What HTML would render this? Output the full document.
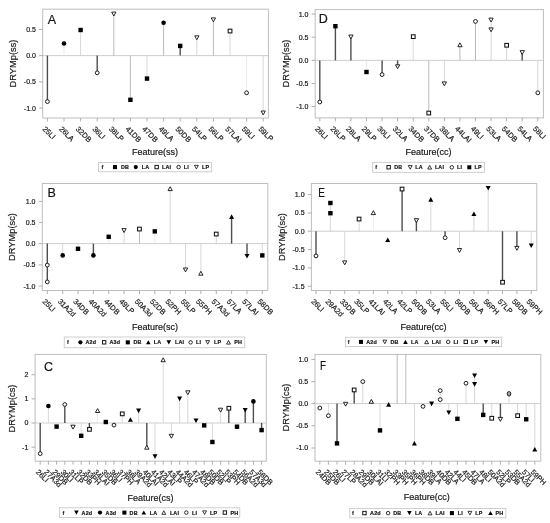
<!DOCTYPE html>
<html><head><meta charset="utf-8"><title>DRYMp feature plots</title>
<style>
html,body{margin:0;padding:0;background:#fff;}
body{width:550px;height:523px;overflow:hidden;}
svg{display:block;font-family:"Liberation Sans", sans-serif;}
text{stroke:#161616;stroke-width:0.18px;}
</style></head><body>
<svg width="550" height="523" viewBox="0 0 550 523">
<rect x="0" y="0" width="550" height="523" fill="#fff"/>
<rect x="42.7" y="9.2" width="225.7" height="108.8" fill="#fff" stroke="#bcbec2" stroke-width="1"/>
<line x1="42.7" y1="55.6" x2="268.4" y2="55.6" stroke="#c8c8c8" stroke-width="0.9"/>
<line x1="39.1" y1="29.4" x2="42.7" y2="29.4" stroke="#a6a6a6" stroke-width="0.9"/>
<text x="35.9" y="31.8" font-size="7" text-anchor="end" fill="#161616">0.5</text>
<line x1="39.1" y1="55.6" x2="42.7" y2="55.6" stroke="#a6a6a6" stroke-width="0.9"/>
<text x="35.9" y="58.0" font-size="7" text-anchor="end" fill="#161616">0.0</text>
<line x1="39.1" y1="81.9" x2="42.7" y2="81.9" stroke="#a6a6a6" stroke-width="0.9"/>
<text x="35.9" y="84.3" font-size="7" text-anchor="end" fill="#161616">-0.5</text>
<line x1="39.1" y1="108.1" x2="42.7" y2="108.1" stroke="#a6a6a6" stroke-width="0.9"/>
<text x="35.9" y="110.5" font-size="7" text-anchor="end" fill="#161616">-1.0</text>
<text transform="translate(16,63.5) rotate(-90)" font-size="9.3" text-anchor="middle" fill="#161616">DRYMp(ss)</text>
<text transform="translate(47.8,24) scale(1,1)" font-size="12.5" fill="#111" stroke="none">A</text>
<line x1="47.4" y1="118.0" x2="47.4" y2="121.5" stroke="#a6a6a6" stroke-width="0.9"/>
<line x1="47.4" y1="55.6" x2="47.4" y2="101.6" stroke="#4e4e4e" stroke-width="1.4"/>
<circle cx="47.4" cy="101.6" r="1.9" fill="#fff" stroke="#111" stroke-width="0.95"/>
<text transform="translate(42.1,129.4) rotate(45)" font-size="7.5" fill="#161616">25LI</text>
<line x1="64.0" y1="118.0" x2="64.0" y2="121.5" stroke="#a6a6a6" stroke-width="0.9"/>
<line x1="64.0" y1="55.6" x2="64.0" y2="43.5" stroke="#e4e4e4" stroke-width="0.75"/>
<circle cx="64.0" cy="43.5" r="2.3" fill="#000"/>
<text transform="translate(58.7,129.4) rotate(45)" font-size="7.5" fill="#161616">26LA</text>
<line x1="80.6" y1="118.0" x2="80.6" y2="121.5" stroke="#a6a6a6" stroke-width="0.9"/>
<line x1="80.6" y1="55.6" x2="80.6" y2="30" stroke="#cbcbcb" stroke-width="0.75"/>
<rect x="78.4" y="27.8" width="4.4" height="4.4" fill="#000"/>
<text transform="translate(75.3,129.4) rotate(45)" font-size="7.5" fill="#161616">32DB</text>
<line x1="97.2" y1="118.0" x2="97.2" y2="121.5" stroke="#a6a6a6" stroke-width="0.9"/>
<line x1="97.2" y1="55.6" x2="97.2" y2="72.8" stroke="#4e4e4e" stroke-width="1.4"/>
<circle cx="97.2" cy="72.8" r="1.9" fill="#fff" stroke="#111" stroke-width="0.95"/>
<text transform="translate(91.9,129.4) rotate(45)" font-size="7.5" fill="#161616">36LI</text>
<line x1="113.8" y1="118.0" x2="113.8" y2="121.5" stroke="#a6a6a6" stroke-width="0.9"/>
<line x1="113.8" y1="55.6" x2="113.8" y2="14" stroke="#adadad" stroke-width="0.85"/>
<polygon points="113.8,16.0 116.0,12.1 111.7,12.1" fill="#fff" stroke="#111" stroke-width="0.9"/>
<text transform="translate(108.5,129.4) rotate(45)" font-size="7.5" fill="#161616">38LP</text>
<line x1="130.4" y1="118.0" x2="130.4" y2="121.5" stroke="#a6a6a6" stroke-width="0.9"/>
<line x1="130.4" y1="55.6" x2="130.4" y2="99.8" stroke="#adadad" stroke-width="0.85"/>
<rect x="128.2" y="97.6" width="4.4" height="4.4" fill="#000"/>
<text transform="translate(125.1,129.4) rotate(45)" font-size="7.5" fill="#161616">41DB</text>
<line x1="147.0" y1="118.0" x2="147.0" y2="121.5" stroke="#a6a6a6" stroke-width="0.9"/>
<line x1="147.0" y1="55.6" x2="147.0" y2="78.6" stroke="#cbcbcb" stroke-width="0.75"/>
<rect x="144.8" y="76.4" width="4.4" height="4.4" fill="#000"/>
<text transform="translate(141.7,129.4) rotate(45)" font-size="7.5" fill="#161616">47DB</text>
<line x1="163.6" y1="118.0" x2="163.6" y2="121.5" stroke="#a6a6a6" stroke-width="0.9"/>
<line x1="163.6" y1="55.6" x2="163.6" y2="22.7" stroke="#adadad" stroke-width="0.85"/>
<circle cx="163.6" cy="22.7" r="2.3" fill="#000"/>
<text transform="translate(158.3,129.4) rotate(45)" font-size="7.5" fill="#161616">49LA</text>
<line x1="180.2" y1="118.0" x2="180.2" y2="121.5" stroke="#a6a6a6" stroke-width="0.9"/>
<line x1="180.2" y1="55.6" x2="180.2" y2="45.9" stroke="#4e4e4e" stroke-width="1.4"/>
<rect x="178.0" y="43.7" width="4.4" height="4.4" fill="#000"/>
<text transform="translate(174.9,129.4) rotate(45)" font-size="7.5" fill="#161616">50DB</text>
<line x1="196.8" y1="118.0" x2="196.8" y2="121.5" stroke="#a6a6a6" stroke-width="0.9"/>
<line x1="196.8" y1="55.6" x2="196.8" y2="37.7" stroke="#cbcbcb" stroke-width="0.75"/>
<polygon points="196.8,39.7 199.0,35.8 194.7,35.8" fill="#fff" stroke="#111" stroke-width="0.9"/>
<text transform="translate(191.5,129.4) rotate(45)" font-size="7.5" fill="#161616">54LP</text>
<line x1="213.4" y1="118.0" x2="213.4" y2="121.5" stroke="#a6a6a6" stroke-width="0.9"/>
<line x1="213.4" y1="55.6" x2="213.4" y2="19.8" stroke="#adadad" stroke-width="0.85"/>
<polygon points="213.4,21.8 215.6,17.9 211.2,17.9" fill="#fff" stroke="#111" stroke-width="0.9"/>
<text transform="translate(208.1,129.4) rotate(45)" font-size="7.5" fill="#161616">56LP</text>
<line x1="230.0" y1="118.0" x2="230.0" y2="121.5" stroke="#a6a6a6" stroke-width="0.9"/>
<line x1="230.0" y1="55.6" x2="230.0" y2="31.1" stroke="#cbcbcb" stroke-width="0.75"/>
<rect x="228.2" y="29.2" width="3.7" height="3.7" fill="#fff" stroke="#111" stroke-width="1.05"/>
<text transform="translate(224.7,129.4) rotate(45)" font-size="7.5" fill="#161616">57LAI</text>
<line x1="246.6" y1="118.0" x2="246.6" y2="121.5" stroke="#a6a6a6" stroke-width="0.9"/>
<line x1="246.6" y1="55.6" x2="246.6" y2="92.8" stroke="#e4e4e4" stroke-width="0.75"/>
<circle cx="246.6" cy="92.8" r="1.9" fill="#fff" stroke="#111" stroke-width="0.95"/>
<text transform="translate(241.3,129.4) rotate(45)" font-size="7.5" fill="#161616">59LI</text>
<line x1="263.2" y1="118.0" x2="263.2" y2="121.5" stroke="#a6a6a6" stroke-width="0.9"/>
<line x1="263.2" y1="55.6" x2="263.2" y2="112.9" stroke="#cbcbcb" stroke-width="0.75"/>
<polygon points="263.2,114.9 265.3,111.0 261.1,111.0" fill="#fff" stroke="#111" stroke-width="0.9"/>
<text transform="translate(257.9,129.4) rotate(45)" font-size="7.5" fill="#161616">59LP</text>
<text x="155" y="154.8" font-size="9" text-anchor="middle" fill="#161616">Feature(ss)</text>
<rect x="98.4" y="162.4" width="113.3" height="9.4" fill="#fff" stroke="#c4c4c4" stroke-width="0.8"/>
<text x="101.5" y="169.1" font-size="5.4" font-weight="bold" letter-spacing="0.15" fill="#161616">f</text>
<g transform="translate(115,167.10) scale(0.92)"><rect x="-2.2" y="-2.2" width="4.4" height="4.4" fill="#000"/></g>
<text x="121" y="169.1" font-size="5.4" font-weight="bold" letter-spacing="0.15" fill="#161616">DB</text>
<g transform="translate(135.8,167.10) scale(0.92)"><circle cx="0.0" cy="0.0" r="2.3" fill="#000"/></g>
<text x="141.7" y="169.1" font-size="5.4" font-weight="bold" letter-spacing="0.15" fill="#161616">LA</text>
<g transform="translate(156.7,167.10) scale(0.92)"><rect x="-1.9" y="-1.9" width="3.7" height="3.7" fill="#fff" stroke="#111" stroke-width="1.05"/></g>
<text x="162" y="169.1" font-size="5.4" font-weight="bold" letter-spacing="0.15" fill="#161616">LAI</text>
<g transform="translate(178.6,167.10) scale(0.92)"><circle cx="0.0" cy="0.0" r="1.9" fill="#fff" stroke="#111" stroke-width="0.95"/></g>
<text x="183.7" y="169.1" font-size="5.4" font-weight="bold" letter-spacing="0.15" fill="#161616">LI</text>
<g transform="translate(196.4,167.10) scale(0.92)"><polygon points="0.0,2.0 2.1,-1.9 -2.1,-1.9" fill="#fff" stroke="#111" stroke-width="0.9"/></g>
<text x="202" y="169.1" font-size="5.4" font-weight="bold" letter-spacing="0.15" fill="#161616">LP</text>
<rect x="315.2" y="9.6" width="228.2" height="108.3" fill="#fff" stroke="#bcbec2" stroke-width="1"/>
<line x1="315.2" y1="60.4" x2="543.4" y2="60.4" stroke="#c8c8c8" stroke-width="0.9"/>
<line x1="311.59999999999997" y1="14.1" x2="315.2" y2="14.1" stroke="#a6a6a6" stroke-width="0.9"/>
<text x="308.4" y="16.5" font-size="7" text-anchor="end" fill="#161616">1.0</text>
<line x1="311.59999999999997" y1="37.2" x2="315.2" y2="37.2" stroke="#a6a6a6" stroke-width="0.9"/>
<text x="308.4" y="39.6" font-size="7" text-anchor="end" fill="#161616">0.5</text>
<line x1="311.59999999999997" y1="60.4" x2="315.2" y2="60.4" stroke="#a6a6a6" stroke-width="0.9"/>
<text x="308.4" y="62.8" font-size="7" text-anchor="end" fill="#161616">0.0</text>
<line x1="311.59999999999997" y1="83.5" x2="315.2" y2="83.5" stroke="#a6a6a6" stroke-width="0.9"/>
<text x="308.4" y="85.9" font-size="7" text-anchor="end" fill="#161616">-0.5</text>
<line x1="311.59999999999997" y1="106.6" x2="315.2" y2="106.6" stroke="#a6a6a6" stroke-width="0.9"/>
<text x="308.4" y="109.0" font-size="7" text-anchor="end" fill="#161616">-1.0</text>
<text transform="translate(289,63.5) rotate(-90)" font-size="9.3" text-anchor="middle" fill="#161616">DRYMp(ss)</text>
<text transform="translate(318.8,22.6) scale(1,1)" font-size="12.5" fill="#111" stroke="none">D</text>
<line x1="319.8" y1="117.9" x2="319.8" y2="121.4" stroke="#a6a6a6" stroke-width="0.9"/>
<line x1="319.8" y1="60.4" x2="319.8" y2="102" stroke="#4e4e4e" stroke-width="1.4"/>
<circle cx="319.8" cy="102.0" r="1.9" fill="#fff" stroke="#111" stroke-width="0.95"/>
<text transform="translate(314.5,129.3) rotate(45)" font-size="7.5" fill="#161616">26LI</text>
<line x1="335.4" y1="117.9" x2="335.4" y2="121.4" stroke="#a6a6a6" stroke-width="0.9"/>
<line x1="335.4" y1="60.4" x2="335.4" y2="26.2" stroke="#4e4e4e" stroke-width="1.4"/>
<rect x="333.2" y="24.0" width="4.4" height="4.4" fill="#000"/>
<text transform="translate(330.1,129.3) rotate(45)" font-size="7.5" fill="#161616">26LP</text>
<line x1="350.9" y1="117.9" x2="350.9" y2="121.4" stroke="#a6a6a6" stroke-width="0.9"/>
<line x1="350.9" y1="60.4" x2="350.9" y2="36.9" stroke="#4e4e4e" stroke-width="1.4"/>
<polygon points="350.9,38.9 353.1,35.0 348.8,35.0" fill="#fff" stroke="#111" stroke-width="0.9"/>
<text transform="translate(345.6,129.3) rotate(45)" font-size="7.5" fill="#161616">28LA</text>
<line x1="366.5" y1="117.9" x2="366.5" y2="121.4" stroke="#a6a6a6" stroke-width="0.9"/>
<line x1="366.5" y1="60.4" x2="366.5" y2="72" stroke="#e4e4e4" stroke-width="0.75"/>
<rect x="364.3" y="69.8" width="4.4" height="4.4" fill="#000"/>
<text transform="translate(361.2,129.3) rotate(45)" font-size="7.5" fill="#161616">29LP</text>
<line x1="382.1" y1="117.9" x2="382.1" y2="121.4" stroke="#a6a6a6" stroke-width="0.9"/>
<line x1="382.1" y1="60.4" x2="382.1" y2="74.6" stroke="#4e4e4e" stroke-width="1.4"/>
<circle cx="382.1" cy="74.6" r="1.9" fill="#fff" stroke="#111" stroke-width="0.95"/>
<text transform="translate(376.8,129.3) rotate(45)" font-size="7.5" fill="#161616">30LI</text>
<line x1="397.6" y1="117.9" x2="397.6" y2="121.4" stroke="#a6a6a6" stroke-width="0.9"/>
<line x1="397.6" y1="60.4" x2="397.6" y2="66.7" stroke="#4e4e4e" stroke-width="1.4"/>
<polygon points="397.6,68.7 399.8,64.8 395.5,64.8" fill="#fff" stroke="#111" stroke-width="0.9"/>
<text transform="translate(392.3,129.3) rotate(45)" font-size="7.5" fill="#161616">32LA</text>
<line x1="413.2" y1="117.9" x2="413.2" y2="121.4" stroke="#a6a6a6" stroke-width="0.9"/>
<line x1="413.2" y1="60.4" x2="413.2" y2="36.6" stroke="#cbcbcb" stroke-width="0.75"/>
<rect x="411.4" y="34.8" width="3.7" height="3.7" fill="#fff" stroke="#111" stroke-width="1.05"/>
<text transform="translate(407.9,129.3) rotate(45)" font-size="7.5" fill="#161616">34DB</text>
<line x1="428.8" y1="117.9" x2="428.8" y2="121.4" stroke="#a6a6a6" stroke-width="0.9"/>
<line x1="428.8" y1="60.4" x2="428.8" y2="113.1" stroke="#adadad" stroke-width="0.85"/>
<rect x="426.9" y="111.2" width="3.7" height="3.7" fill="#fff" stroke="#111" stroke-width="1.05"/>
<text transform="translate(423.5,129.3) rotate(45)" font-size="7.5" fill="#161616">37DB</text>
<line x1="444.4" y1="117.9" x2="444.4" y2="121.4" stroke="#a6a6a6" stroke-width="0.9"/>
<line x1="444.4" y1="60.4" x2="444.4" y2="83.8" stroke="#cbcbcb" stroke-width="0.75"/>
<polygon points="444.4,85.8 446.5,81.9 442.2,81.9" fill="#fff" stroke="#111" stroke-width="0.9"/>
<text transform="translate(439.1,129.3) rotate(45)" font-size="7.5" fill="#161616">38LA</text>
<line x1="459.9" y1="117.9" x2="459.9" y2="121.4" stroke="#a6a6a6" stroke-width="0.9"/>
<line x1="459.9" y1="60.4" x2="459.9" y2="44.8" stroke="#adadad" stroke-width="0.85"/>
<polygon points="459.9,42.8 462.1,46.7 457.8,46.7" fill="#fff" stroke="#111" stroke-width="0.9"/>
<text transform="translate(454.6,129.3) rotate(45)" font-size="7.5" fill="#161616">44LAI</text>
<line x1="475.5" y1="117.9" x2="475.5" y2="121.4" stroke="#a6a6a6" stroke-width="0.9"/>
<line x1="475.5" y1="60.4" x2="475.5" y2="21.4" stroke="#adadad" stroke-width="0.85"/>
<circle cx="475.5" cy="21.4" r="1.9" fill="#fff" stroke="#111" stroke-width="0.95"/>
<text transform="translate(470.2,129.3) rotate(45)" font-size="7.5" fill="#161616">49LI</text>
<line x1="491.1" y1="117.9" x2="491.1" y2="121.4" stroke="#a6a6a6" stroke-width="0.9"/>
<line x1="491.1" y1="60.4" x2="491.1" y2="20" stroke="#cbcbcb" stroke-width="0.75"/>
<polygon points="491.1,22.0 493.2,18.1 488.9,18.1" fill="#fff" stroke="#111" stroke-width="0.9"/>
<polygon points="491.1,31.8 493.2,27.9 488.9,27.9" fill="#fff" stroke="#111" stroke-width="0.9"/>
<text transform="translate(485.8,129.3) rotate(45)" font-size="7.5" fill="#161616">53LA</text>
<line x1="506.6" y1="117.9" x2="506.6" y2="121.4" stroke="#a6a6a6" stroke-width="0.9"/>
<line x1="506.6" y1="60.4" x2="506.6" y2="45.3" stroke="#cbcbcb" stroke-width="0.75"/>
<rect x="504.8" y="43.4" width="3.7" height="3.7" fill="#fff" stroke="#111" stroke-width="1.05"/>
<text transform="translate(501.3,129.3) rotate(45)" font-size="7.5" fill="#161616">54DB</text>
<line x1="522.2" y1="117.9" x2="522.2" y2="121.4" stroke="#a6a6a6" stroke-width="0.9"/>
<line x1="522.2" y1="60.4" x2="522.2" y2="52.5" stroke="#4e4e4e" stroke-width="1.4"/>
<polygon points="522.2,54.5 524.4,50.6 520.1,50.6" fill="#fff" stroke="#111" stroke-width="0.9"/>
<text transform="translate(516.9,129.3) rotate(45)" font-size="7.5" fill="#161616">54LA</text>
<line x1="537.8" y1="117.9" x2="537.8" y2="121.4" stroke="#a6a6a6" stroke-width="0.9"/>
<line x1="537.8" y1="60.4" x2="537.8" y2="92.8" stroke="#cbcbcb" stroke-width="0.75"/>
<circle cx="537.8" cy="92.8" r="1.9" fill="#fff" stroke="#111" stroke-width="0.95"/>
<text transform="translate(532.5,129.3) rotate(45)" font-size="7.5" fill="#161616">58LI</text>
<text x="428.5" y="155.2" font-size="9" text-anchor="middle" fill="#161616">Feature(cc)</text>
<rect x="372.7" y="162.3" width="111.7" height="10.0" fill="#fff" stroke="#c4c4c4" stroke-width="0.8"/>
<text x="375.3" y="169.3" font-size="5.4" font-weight="bold" letter-spacing="0.15" fill="#161616">f</text>
<g transform="translate(388.7,167.30) scale(0.92)"><rect x="-1.9" y="-1.9" width="3.7" height="3.7" fill="#fff" stroke="#111" stroke-width="1.05"/></g>
<text x="394.2" y="169.3" font-size="5.4" font-weight="bold" letter-spacing="0.15" fill="#161616">DB</text>
<g transform="translate(410.2,167.30) scale(0.92)"><polygon points="0.0,2.0 2.1,-1.9 -2.1,-1.9" fill="#fff" stroke="#111" stroke-width="0.9"/></g>
<text x="415.2" y="169.3" font-size="5.4" font-weight="bold" letter-spacing="0.15" fill="#161616">LA</text>
<g transform="translate(429.7,167.30) scale(0.92)"><polygon points="0.0,-2.0 2.1,1.9 -2.1,1.9" fill="#fff" stroke="#111" stroke-width="0.9"/></g>
<text x="434.9" y="169.3" font-size="5.4" font-weight="bold" letter-spacing="0.15" fill="#161616">LAI</text>
<g transform="translate(451.8,167.30) scale(0.92)"><circle cx="0.0" cy="0.0" r="1.9" fill="#fff" stroke="#111" stroke-width="0.95"/></g>
<text x="457" y="169.3" font-size="5.4" font-weight="bold" letter-spacing="0.15" fill="#161616">LI</text>
<g transform="translate(469.3,167.30) scale(0.92)"><rect x="-2.2" y="-2.2" width="4.4" height="4.4" fill="#000"/></g>
<text x="474.5" y="169.3" font-size="5.4" font-weight="bold" letter-spacing="0.15" fill="#161616">LP</text>
<rect x="42.3" y="183.5" width="225.5" height="107.0" fill="#fff" stroke="#bcbec2" stroke-width="1"/>
<line x1="42.3" y1="243.6" x2="267.8" y2="243.6" stroke="#c8c8c8" stroke-width="0.9"/>
<line x1="38.699999999999996" y1="201.4" x2="42.3" y2="201.4" stroke="#a6a6a6" stroke-width="0.9"/>
<text x="35.5" y="203.8" font-size="7" text-anchor="end" fill="#161616">1.0</text>
<line x1="38.699999999999996" y1="222.5" x2="42.3" y2="222.5" stroke="#a6a6a6" stroke-width="0.9"/>
<text x="35.5" y="224.9" font-size="7" text-anchor="end" fill="#161616">0.5</text>
<line x1="38.699999999999996" y1="243.6" x2="42.3" y2="243.6" stroke="#a6a6a6" stroke-width="0.9"/>
<text x="35.5" y="246.0" font-size="7" text-anchor="end" fill="#161616">0.0</text>
<line x1="38.699999999999996" y1="264.9" x2="42.3" y2="264.9" stroke="#a6a6a6" stroke-width="0.9"/>
<text x="35.5" y="267.3" font-size="7" text-anchor="end" fill="#161616">-0.5</text>
<line x1="38.699999999999996" y1="286.1" x2="42.3" y2="286.1" stroke="#a6a6a6" stroke-width="0.9"/>
<text x="35.5" y="288.5" font-size="7" text-anchor="end" fill="#161616">-1.0</text>
<text transform="translate(15.3,237) rotate(-90)" font-size="9.3" text-anchor="middle" fill="#161616">DRYMp(sc)</text>
<text transform="translate(47.5,197) scale(1,1)" font-size="12.5" fill="#111" stroke="none">B</text>
<line x1="47.3" y1="290.5" x2="47.3" y2="294.0" stroke="#a6a6a6" stroke-width="0.9"/>
<line x1="47.3" y1="243.6" x2="47.3" y2="281.9" stroke="#4e4e4e" stroke-width="1.4"/>
<circle cx="47.3" cy="265.1" r="1.9" fill="#fff" stroke="#111" stroke-width="0.95"/>
<circle cx="47.3" cy="281.9" r="1.9" fill="#fff" stroke="#111" stroke-width="0.95"/>
<text transform="translate(42.0,301.9) rotate(45)" font-size="7.5" fill="#161616">25LI</text>
<line x1="62.7" y1="290.5" x2="62.7" y2="294.0" stroke="#a6a6a6" stroke-width="0.9"/>
<line x1="62.7" y1="243.6" x2="62.7" y2="255.4" stroke="#cbcbcb" stroke-width="0.75"/>
<circle cx="62.7" cy="255.4" r="2.3" fill="#000"/>
<text transform="translate(57.4,301.9) rotate(45)" font-size="7.5" fill="#161616">31A2d</text>
<line x1="78.0" y1="290.5" x2="78.0" y2="294.0" stroke="#a6a6a6" stroke-width="0.9"/>
<line x1="78.0" y1="243.6" x2="78.0" y2="248.8" stroke="#e4e4e4" stroke-width="0.75"/>
<rect x="75.8" y="246.6" width="4.4" height="4.4" fill="#000"/>
<text transform="translate(72.7,301.9) rotate(45)" font-size="7.5" fill="#161616">34DB</text>
<line x1="93.4" y1="290.5" x2="93.4" y2="294.0" stroke="#a6a6a6" stroke-width="0.9"/>
<line x1="93.4" y1="243.6" x2="93.4" y2="255.4" stroke="#4e4e4e" stroke-width="1.4"/>
<circle cx="93.4" cy="255.4" r="2.3" fill="#000"/>
<text transform="translate(88.1,301.9) rotate(45)" font-size="7.5" fill="#161616">40A2d</text>
<line x1="108.7" y1="290.5" x2="108.7" y2="294.0" stroke="#a6a6a6" stroke-width="0.9"/>
<line x1="108.7" y1="243.6" x2="108.7" y2="236.8" stroke="#e4e4e4" stroke-width="0.75"/>
<rect x="106.5" y="234.6" width="4.4" height="4.4" fill="#000"/>
<text transform="translate(103.4,301.9) rotate(45)" font-size="7.5" fill="#161616">44DB</text>
<line x1="124.1" y1="290.5" x2="124.1" y2="294.0" stroke="#a6a6a6" stroke-width="0.9"/>
<line x1="124.1" y1="243.6" x2="124.1" y2="230.5" stroke="#cbcbcb" stroke-width="0.75"/>
<polygon points="124.1,232.5 126.2,228.6 121.9,228.6" fill="#fff" stroke="#111" stroke-width="0.9"/>
<text transform="translate(118.8,301.9) rotate(45)" font-size="7.5" fill="#161616">49LP</text>
<line x1="139.5" y1="290.5" x2="139.5" y2="294.0" stroke="#a6a6a6" stroke-width="0.9"/>
<line x1="139.5" y1="243.6" x2="139.5" y2="229.1" stroke="#adadad" stroke-width="0.85"/>
<rect x="137.6" y="227.2" width="3.7" height="3.7" fill="#fff" stroke="#111" stroke-width="1.05"/>
<text transform="translate(134.2,301.9) rotate(45)" font-size="7.5" fill="#161616">50A3d</text>
<line x1="154.8" y1="290.5" x2="154.8" y2="294.0" stroke="#a6a6a6" stroke-width="0.9"/>
<line x1="154.8" y1="243.6" x2="154.8" y2="231.4" stroke="#e4e4e4" stroke-width="0.75"/>
<rect x="152.6" y="229.2" width="4.4" height="4.4" fill="#000"/>
<text transform="translate(149.5,301.9) rotate(45)" font-size="7.5" fill="#161616">52DB</text>
<line x1="170.2" y1="290.5" x2="170.2" y2="294.0" stroke="#a6a6a6" stroke-width="0.9"/>
<line x1="170.2" y1="243.6" x2="170.2" y2="188.7" stroke="#cbcbcb" stroke-width="0.75"/>
<polygon points="170.2,186.7 172.3,190.6 168.0,190.6" fill="#fff" stroke="#111" stroke-width="0.9"/>
<text transform="translate(164.9,301.9) rotate(45)" font-size="7.5" fill="#161616">52PH</text>
<line x1="185.5" y1="290.5" x2="185.5" y2="294.0" stroke="#a6a6a6" stroke-width="0.9"/>
<line x1="185.5" y1="243.6" x2="185.5" y2="269.9" stroke="#cbcbcb" stroke-width="0.75"/>
<polygon points="185.5,271.9 187.7,268.0 183.4,268.0" fill="#fff" stroke="#111" stroke-width="0.9"/>
<text transform="translate(180.2,301.9) rotate(45)" font-size="7.5" fill="#161616">55LP</text>
<line x1="200.9" y1="290.5" x2="200.9" y2="294.0" stroke="#a6a6a6" stroke-width="0.9"/>
<line x1="200.9" y1="243.6" x2="200.9" y2="273.3" stroke="#cbcbcb" stroke-width="0.75"/>
<polygon points="200.9,271.3 203.0,275.2 198.7,275.2" fill="#fff" stroke="#111" stroke-width="0.9"/>
<text transform="translate(195.6,301.9) rotate(45)" font-size="7.5" fill="#161616">55PH</text>
<line x1="216.3" y1="290.5" x2="216.3" y2="294.0" stroke="#a6a6a6" stroke-width="0.9"/>
<line x1="216.3" y1="243.6" x2="216.3" y2="234" stroke="#cbcbcb" stroke-width="0.75"/>
<rect x="214.4" y="232.2" width="3.7" height="3.7" fill="#fff" stroke="#111" stroke-width="1.05"/>
<text transform="translate(211.0,301.9) rotate(45)" font-size="7.5" fill="#161616">57A3d</text>
<line x1="231.6" y1="290.5" x2="231.6" y2="294.0" stroke="#a6a6a6" stroke-width="0.9"/>
<line x1="231.6" y1="243.6" x2="231.6" y2="216.7" stroke="#4e4e4e" stroke-width="1.4"/>
<polygon points="231.6,214.3 234.1,218.9 229.1,218.9" fill="#000"/>
<text transform="translate(226.3,301.9) rotate(45)" font-size="7.5" fill="#161616">57LA</text>
<line x1="247.0" y1="290.5" x2="247.0" y2="294.0" stroke="#a6a6a6" stroke-width="0.9"/>
<line x1="247.0" y1="243.6" x2="247.0" y2="256.2" stroke="#4e4e4e" stroke-width="1.4"/>
<polygon points="247.0,258.6 249.5,254.0 244.5,254.0" fill="#000"/>
<text transform="translate(241.7,301.9) rotate(45)" font-size="7.5" fill="#161616">57LAI</text>
<line x1="262.3" y1="290.5" x2="262.3" y2="294.0" stroke="#a6a6a6" stroke-width="0.9"/>
<line x1="262.3" y1="243.6" x2="262.3" y2="255.4" stroke="#cbcbcb" stroke-width="0.75"/>
<rect x="260.1" y="253.2" width="4.4" height="4.4" fill="#000"/>
<text transform="translate(257.0,301.9) rotate(45)" font-size="7.5" fill="#161616">58DB</text>
<text x="155" y="330" font-size="9" text-anchor="middle" fill="#161616">Feature(sc)</text>
<rect x="64.2" y="337.0" width="180.6" height="10.7" fill="#fff" stroke="#c4c4c4" stroke-width="0.8"/>
<text x="66.9" y="344.4" font-size="5.4" font-weight="bold" letter-spacing="0.15" fill="#161616">f</text>
<g transform="translate(80.4,342.35) scale(0.92)"><circle cx="0.0" cy="0.0" r="2.3" fill="#000"/></g>
<text x="85.5" y="344.4" font-size="5.4" font-weight="bold" letter-spacing="0.15" fill="#161616">A2d</text>
<g transform="translate(104.2,342.35) scale(0.92)"><rect x="-1.9" y="-1.9" width="3.7" height="3.7" fill="#fff" stroke="#111" stroke-width="1.05"/></g>
<text x="109.5" y="344.4" font-size="5.4" font-weight="bold" letter-spacing="0.15" fill="#161616">A3d</text>
<g transform="translate(127.8,342.35) scale(0.92)"><rect x="-2.2" y="-2.2" width="4.4" height="4.4" fill="#000"/></g>
<text x="133.5" y="344.4" font-size="5.4" font-weight="bold" letter-spacing="0.15" fill="#161616">DB</text>
<g transform="translate(148.3,342.35) scale(0.92)"><polygon points="0.0,-2.4 2.5,2.2 -2.5,2.2" fill="#000"/></g>
<text x="153.7" y="344.4" font-size="5.4" font-weight="bold" letter-spacing="0.15" fill="#161616">LA</text>
<g transform="translate(168.8,342.35) scale(0.92)"><polygon points="0.0,2.4 2.5,-2.2 -2.5,-2.2" fill="#000"/></g>
<text x="175" y="344.4" font-size="5.4" font-weight="bold" letter-spacing="0.15" fill="#161616">LAI</text>
<g transform="translate(190.6,342.35) scale(0.92)"><circle cx="0.0" cy="0.0" r="1.9" fill="#fff" stroke="#111" stroke-width="0.95"/></g>
<text x="196" y="344.4" font-size="5.4" font-weight="bold" letter-spacing="0.15" fill="#161616">LI</text>
<g transform="translate(207.7,342.35) scale(0.92)"><polygon points="0.0,2.0 2.1,-1.9 -2.1,-1.9" fill="#fff" stroke="#111" stroke-width="0.9"/></g>
<text x="214" y="344.4" font-size="5.4" font-weight="bold" letter-spacing="0.15" fill="#161616">LP</text>
<g transform="translate(228.5,342.35) scale(0.92)"><polygon points="0.0,-2.0 2.1,1.9 -2.1,1.9" fill="#fff" stroke="#111" stroke-width="0.9"/></g>
<text x="234.3" y="344.4" font-size="5.4" font-weight="bold" letter-spacing="0.15" fill="#161616">PH</text>
<rect x="311.4" y="183.5" width="225.4" height="107.0" fill="#fff" stroke="#bcbec2" stroke-width="1"/>
<line x1="311.4" y1="231.2" x2="536.8" y2="231.2" stroke="#c8c8c8" stroke-width="0.9"/>
<line x1="307.79999999999995" y1="194.6" x2="311.4" y2="194.6" stroke="#a6a6a6" stroke-width="0.9"/>
<text x="304.6" y="197.0" font-size="7" text-anchor="end" fill="#161616">1.0</text>
<line x1="307.79999999999995" y1="213.0" x2="311.4" y2="213.0" stroke="#a6a6a6" stroke-width="0.9"/>
<text x="304.6" y="215.4" font-size="7" text-anchor="end" fill="#161616">0.5</text>
<line x1="307.79999999999995" y1="231.2" x2="311.4" y2="231.2" stroke="#a6a6a6" stroke-width="0.9"/>
<text x="304.6" y="233.6" font-size="7" text-anchor="end" fill="#161616">0.0</text>
<line x1="307.79999999999995" y1="249.6" x2="311.4" y2="249.6" stroke="#a6a6a6" stroke-width="0.9"/>
<text x="304.6" y="252.0" font-size="7" text-anchor="end" fill="#161616">-0.5</text>
<line x1="307.79999999999995" y1="267.9" x2="311.4" y2="267.9" stroke="#a6a6a6" stroke-width="0.9"/>
<text x="304.6" y="270.3" font-size="7" text-anchor="end" fill="#161616">-1.0</text>
<line x1="307.79999999999995" y1="286.2" x2="311.4" y2="286.2" stroke="#a6a6a6" stroke-width="0.9"/>
<text x="304.6" y="288.6" font-size="7" text-anchor="end" fill="#161616">-1.5</text>
<text transform="translate(285,237) rotate(-90)" font-size="9.3" text-anchor="middle" fill="#161616">DRYMp(sc)</text>
<text transform="translate(318.2,197.4) scale(0.8,1)" font-size="12.5" fill="#111" stroke="none">E</text>
<line x1="316.0" y1="290.5" x2="316.0" y2="294.0" stroke="#a6a6a6" stroke-width="0.9"/>
<line x1="316.0" y1="231.2" x2="316.0" y2="255.9" stroke="#4e4e4e" stroke-width="1.4"/>
<circle cx="316.0" cy="255.9" r="1.9" fill="#fff" stroke="#111" stroke-width="0.95"/>
<text transform="translate(310.7,301.9) rotate(45)" font-size="7.5" fill="#161616">26LI</text>
<line x1="330.4" y1="290.5" x2="330.4" y2="294.0" stroke="#a6a6a6" stroke-width="0.9"/>
<line x1="330.4" y1="231.2" x2="330.4" y2="203" stroke="#cbcbcb" stroke-width="0.75"/>
<rect x="328.2" y="200.8" width="4.4" height="4.4" fill="#000"/>
<rect x="328.2" y="211.0" width="4.4" height="4.4" fill="#000"/>
<text transform="translate(325.1,301.9) rotate(45)" font-size="7.5" fill="#161616">29A2d</text>
<line x1="344.7" y1="290.5" x2="344.7" y2="294.0" stroke="#a6a6a6" stroke-width="0.9"/>
<line x1="344.7" y1="231.2" x2="344.7" y2="262.8" stroke="#cbcbcb" stroke-width="0.75"/>
<polygon points="344.7,264.8 346.8,260.9 342.6,260.9" fill="#fff" stroke="#111" stroke-width="0.9"/>
<text transform="translate(339.4,301.9) rotate(45)" font-size="7.5" fill="#161616">33DB</text>
<line x1="359.1" y1="290.5" x2="359.1" y2="294.0" stroke="#a6a6a6" stroke-width="0.9"/>
<line x1="359.1" y1="231.2" x2="359.1" y2="219" stroke="#cbcbcb" stroke-width="0.75"/>
<rect x="357.2" y="217.2" width="3.7" height="3.7" fill="#fff" stroke="#111" stroke-width="1.05"/>
<text transform="translate(353.8,301.9) rotate(45)" font-size="7.5" fill="#161616">35LP</text>
<line x1="373.4" y1="290.5" x2="373.4" y2="294.0" stroke="#a6a6a6" stroke-width="0.9"/>
<line x1="373.4" y1="231.2" x2="373.4" y2="212.7" stroke="#e4e4e4" stroke-width="0.75"/>
<polygon points="373.4,210.7 375.5,214.6 371.2,214.6" fill="#fff" stroke="#111" stroke-width="0.9"/>
<text transform="translate(368.1,301.9) rotate(45)" font-size="7.5" fill="#161616">41LAI</text>
<line x1="387.8" y1="290.5" x2="387.8" y2="294.0" stroke="#a6a6a6" stroke-width="0.9"/>
<polygon points="387.8,237.5 390.2,242.1 385.2,242.1" fill="#000"/>
<text transform="translate(382.4,301.9) rotate(45)" font-size="7.5" fill="#161616">42LA</text>
<line x1="402.1" y1="290.5" x2="402.1" y2="294.0" stroke="#a6a6a6" stroke-width="0.9"/>
<line x1="402.1" y1="231.2" x2="402.1" y2="189" stroke="#4e4e4e" stroke-width="1.4"/>
<rect x="400.2" y="187.2" width="3.7" height="3.7" fill="#fff" stroke="#111" stroke-width="1.05"/>
<text transform="translate(396.8,301.9) rotate(45)" font-size="7.5" fill="#161616">42LP</text>
<line x1="416.4" y1="290.5" x2="416.4" y2="294.0" stroke="#a6a6a6" stroke-width="0.9"/>
<line x1="416.4" y1="231.2" x2="416.4" y2="220.6" stroke="#4e4e4e" stroke-width="1.4"/>
<polygon points="416.4,222.6 418.6,218.7 414.3,218.7" fill="#fff" stroke="#111" stroke-width="0.9"/>
<text transform="translate(411.1,301.9) rotate(45)" font-size="7.5" fill="#161616">50DB</text>
<line x1="430.8" y1="290.5" x2="430.8" y2="294.0" stroke="#a6a6a6" stroke-width="0.9"/>
<line x1="430.8" y1="231.2" x2="430.8" y2="199.5" stroke="#cbcbcb" stroke-width="0.75"/>
<polygon points="430.8,197.1 433.3,201.7 428.3,201.7" fill="#000"/>
<text transform="translate(425.5,301.9) rotate(45)" font-size="7.5" fill="#161616">53LA</text>
<line x1="445.1" y1="290.5" x2="445.1" y2="294.0" stroke="#a6a6a6" stroke-width="0.9"/>
<line x1="445.1" y1="231.2" x2="445.1" y2="237.7" stroke="#4e4e4e" stroke-width="1.4"/>
<circle cx="445.1" cy="237.7" r="1.9" fill="#fff" stroke="#111" stroke-width="0.95"/>
<text transform="translate(439.8,301.9) rotate(45)" font-size="7.5" fill="#161616">55LI</text>
<line x1="459.5" y1="290.5" x2="459.5" y2="294.0" stroke="#a6a6a6" stroke-width="0.9"/>
<line x1="459.5" y1="231.2" x2="459.5" y2="250.4" stroke="#cbcbcb" stroke-width="0.75"/>
<polygon points="459.5,252.4 461.6,248.5 457.4,248.5" fill="#fff" stroke="#111" stroke-width="0.9"/>
<text transform="translate(454.2,301.9) rotate(45)" font-size="7.5" fill="#161616">56DB</text>
<line x1="473.9" y1="290.5" x2="473.9" y2="294.0" stroke="#a6a6a6" stroke-width="0.9"/>
<line x1="473.9" y1="231.2" x2="473.9" y2="213.8" stroke="#cbcbcb" stroke-width="0.75"/>
<polygon points="473.9,211.4 476.4,216.0 471.4,216.0" fill="#000"/>
<text transform="translate(468.6,301.9) rotate(45)" font-size="7.5" fill="#161616">56LA</text>
<line x1="488.2" y1="290.5" x2="488.2" y2="294.0" stroke="#a6a6a6" stroke-width="0.9"/>
<line x1="488.2" y1="231.2" x2="488.2" y2="188.2" stroke="#cbcbcb" stroke-width="0.75"/>
<polygon points="488.2,190.6 490.7,186.0 485.7,186.0" fill="#000"/>
<text transform="translate(482.9,301.9) rotate(45)" font-size="7.5" fill="#161616">56PH</text>
<line x1="502.5" y1="290.5" x2="502.5" y2="294.0" stroke="#a6a6a6" stroke-width="0.9"/>
<line x1="502.5" y1="231.2" x2="502.5" y2="282.3" stroke="#4e4e4e" stroke-width="1.4"/>
<rect x="500.7" y="280.4" width="3.7" height="3.7" fill="#fff" stroke="#111" stroke-width="1.05"/>
<text transform="translate(497.2,301.9) rotate(45)" font-size="7.5" fill="#161616">57LP</text>
<line x1="516.9" y1="290.5" x2="516.9" y2="294.0" stroke="#a6a6a6" stroke-width="0.9"/>
<line x1="516.9" y1="231.2" x2="516.9" y2="248.3" stroke="#4e4e4e" stroke-width="1.4"/>
<polygon points="516.9,250.3 519.0,246.4 514.8,246.4" fill="#fff" stroke="#111" stroke-width="0.9"/>
<text transform="translate(511.6,301.9) rotate(45)" font-size="7.5" fill="#161616">58DB</text>
<line x1="531.2" y1="290.5" x2="531.2" y2="294.0" stroke="#a6a6a6" stroke-width="0.9"/>
<line x1="531.2" y1="231.2" x2="531.2" y2="245.7" stroke="#cbcbcb" stroke-width="0.75"/>
<polygon points="531.2,248.1 533.8,243.5 528.8,243.5" fill="#000"/>
<text transform="translate(526.0,301.9) rotate(45)" font-size="7.5" fill="#161616">59PH</text>
<text x="423.5" y="329.8" font-size="9" text-anchor="middle" fill="#161616">Feature(cc)</text>
<rect x="345.6" y="337.2" width="156.1" height="9.4" fill="#fff" stroke="#c4c4c4" stroke-width="0.8"/>
<text x="347.7" y="343.9" font-size="5.4" font-weight="bold" letter-spacing="0.15" fill="#161616">f</text>
<g transform="translate(361,341.90) scale(0.92)"><rect x="-2.2" y="-2.2" width="4.4" height="4.4" fill="#000"/></g>
<text x="366.3" y="343.9" font-size="5.4" font-weight="bold" letter-spacing="0.15" fill="#161616">A2d</text>
<g transform="translate(384.8,341.90) scale(0.92)"><polygon points="0.0,2.0 2.1,-1.9 -2.1,-1.9" fill="#fff" stroke="#111" stroke-width="0.9"/></g>
<text x="390.4" y="343.9" font-size="5.4" font-weight="bold" letter-spacing="0.15" fill="#161616">DB</text>
<g transform="translate(405.5,341.90) scale(0.92)"><polygon points="0.0,-2.4 2.5,2.2 -2.5,2.2" fill="#000"/></g>
<text x="411.1" y="343.9" font-size="5.4" font-weight="bold" letter-spacing="0.15" fill="#161616">LA</text>
<g transform="translate(426.6,341.90) scale(0.92)"><polygon points="0.0,-2.0 2.1,1.9 -2.1,1.9" fill="#fff" stroke="#111" stroke-width="0.9"/></g>
<text x="431.8" y="343.9" font-size="5.4" font-weight="bold" letter-spacing="0.15" fill="#161616">LAI</text>
<g transform="translate(448.2,341.90) scale(0.92)"><circle cx="0.0" cy="0.0" r="1.9" fill="#fff" stroke="#111" stroke-width="0.95"/></g>
<text x="453.4" y="343.9" font-size="5.4" font-weight="bold" letter-spacing="0.15" fill="#161616">LI</text>
<g transform="translate(465.8,341.90) scale(0.92)"><rect x="-1.9" y="-1.9" width="3.7" height="3.7" fill="#fff" stroke="#111" stroke-width="1.05"/></g>
<text x="471" y="343.9" font-size="5.4" font-weight="bold" letter-spacing="0.15" fill="#161616">LP</text>
<g transform="translate(485.9,341.90) scale(0.92)"><polygon points="0.0,2.4 2.5,-2.2 -2.5,-2.2" fill="#000"/></g>
<text x="491.5" y="343.9" font-size="5.4" font-weight="bold" letter-spacing="0.15" fill="#161616">PH</text>
<rect x="35.1" y="354.4" width="231.2" height="106.8" fill="#fff" stroke="#bcbec2" stroke-width="1"/>
<line x1="35.1" y1="423" x2="266.3" y2="423" stroke="#c8c8c8" stroke-width="0.9"/>
<line x1="31.5" y1="374.7" x2="35.1" y2="374.7" stroke="#a6a6a6" stroke-width="0.9"/>
<text x="28.3" y="377.1" font-size="7" text-anchor="end" fill="#161616">2</text>
<line x1="31.5" y1="398.9" x2="35.1" y2="398.9" stroke="#a6a6a6" stroke-width="0.9"/>
<text x="28.3" y="401.3" font-size="7" text-anchor="end" fill="#161616">1</text>
<line x1="31.5" y1="423" x2="35.1" y2="423" stroke="#a6a6a6" stroke-width="0.9"/>
<text x="28.3" y="425.4" font-size="7" text-anchor="end" fill="#161616">0</text>
<line x1="31.5" y1="447.2" x2="35.1" y2="447.2" stroke="#a6a6a6" stroke-width="0.9"/>
<text x="28.3" y="449.6" font-size="7" text-anchor="end" fill="#161616">-1</text>
<text transform="translate(14.5,408.5) rotate(-90)" font-size="9.3" text-anchor="middle" fill="#161616">DRYMp(cs)</text>
<text transform="translate(44,371) scale(1,1)" font-size="12.5" fill="#111" stroke="none">C</text>
<line x1="40.2" y1="461.2" x2="40.2" y2="464.7" stroke="#a6a6a6" stroke-width="0.9"/>
<line x1="40.2" y1="423" x2="40.2" y2="453.6" stroke="#4e4e4e" stroke-width="1.4"/>
<circle cx="40.2" cy="453.6" r="1.9" fill="#fff" stroke="#111" stroke-width="0.95"/>
<text transform="translate(35.6,472.6) rotate(45)" font-size="7.3" fill="#161616">26LI</text>
<line x1="48.4" y1="461.2" x2="48.4" y2="464.7" stroke="#a6a6a6" stroke-width="0.9"/>
<line x1="48.4" y1="423" x2="48.4" y2="406" stroke="#cbcbcb" stroke-width="0.75"/>
<circle cx="48.4" cy="406.0" r="2.3" fill="#000"/>
<text transform="translate(43.8,472.6) rotate(45)" font-size="7.3" fill="#161616">27A3d</text>
<line x1="56.6" y1="461.2" x2="56.6" y2="464.7" stroke="#a6a6a6" stroke-width="0.9"/>
<line x1="56.6" y1="423" x2="56.6" y2="426.6" stroke="#e4e4e4" stroke-width="0.75"/>
<rect x="54.4" y="424.4" width="4.4" height="4.4" fill="#000"/>
<text transform="translate(52.0,472.6) rotate(45)" font-size="7.3" fill="#161616">29DB</text>
<line x1="64.8" y1="461.2" x2="64.8" y2="464.7" stroke="#a6a6a6" stroke-width="0.9"/>
<line x1="64.8" y1="423" x2="64.8" y2="404.5" stroke="#4e4e4e" stroke-width="1.4"/>
<circle cx="64.8" cy="404.5" r="1.9" fill="#fff" stroke="#111" stroke-width="0.95"/>
<text transform="translate(60.2,472.6) rotate(45)" font-size="7.3" fill="#161616">30LI</text>
<line x1="73.0" y1="461.2" x2="73.0" y2="464.7" stroke="#a6a6a6" stroke-width="0.9"/>
<line x1="73.0" y1="423" x2="73.0" y2="427.1" stroke="#e4e4e4" stroke-width="0.75"/>
<polygon points="73.0,429.1 75.2,425.2 70.8,425.2" fill="#fff" stroke="#111" stroke-width="0.9"/>
<text transform="translate(68.4,472.6) rotate(45)" font-size="7.3" fill="#161616">31LP</text>
<line x1="81.2" y1="461.2" x2="81.2" y2="464.7" stroke="#a6a6a6" stroke-width="0.9"/>
<line x1="81.2" y1="423" x2="81.2" y2="435.8" stroke="#cbcbcb" stroke-width="0.75"/>
<rect x="79.0" y="433.6" width="4.4" height="4.4" fill="#000"/>
<text transform="translate(76.6,472.6) rotate(45)" font-size="7.3" fill="#161616">32DB</text>
<line x1="89.4" y1="461.2" x2="89.4" y2="464.7" stroke="#a6a6a6" stroke-width="0.9"/>
<line x1="89.4" y1="423" x2="89.4" y2="429.4" stroke="#4e4e4e" stroke-width="1.4"/>
<rect x="87.6" y="427.5" width="3.7" height="3.7" fill="#fff" stroke="#111" stroke-width="1.05"/>
<text transform="translate(84.8,472.6) rotate(45)" font-size="7.3" fill="#161616">33PH</text>
<line x1="97.6" y1="461.2" x2="97.6" y2="464.7" stroke="#a6a6a6" stroke-width="0.9"/>
<line x1="97.6" y1="423" x2="97.6" y2="410.6" stroke="#e4e4e4" stroke-width="0.75"/>
<polygon points="97.6,408.6 99.8,412.5 95.4,412.5" fill="#fff" stroke="#111" stroke-width="0.9"/>
<text transform="translate(93.0,472.6) rotate(45)" font-size="7.3" fill="#161616">34LAI</text>
<line x1="105.8" y1="461.2" x2="105.8" y2="464.7" stroke="#a6a6a6" stroke-width="0.9"/>
<line x1="105.8" y1="423" x2="105.8" y2="422" stroke="#e4e4e4" stroke-width="0.75"/>
<rect x="103.6" y="419.8" width="4.4" height="4.4" fill="#000"/>
<text transform="translate(101.2,472.6) rotate(45)" font-size="7.3" fill="#161616">35DB</text>
<line x1="114.0" y1="461.2" x2="114.0" y2="464.7" stroke="#a6a6a6" stroke-width="0.9"/>
<line x1="114.0" y1="423" x2="114.0" y2="425.1" stroke="#e4e4e4" stroke-width="0.75"/>
<circle cx="114.0" cy="425.1" r="1.9" fill="#fff" stroke="#111" stroke-width="0.95"/>
<text transform="translate(109.4,472.6) rotate(45)" font-size="7.3" fill="#161616">36LI</text>
<line x1="122.2" y1="461.2" x2="122.2" y2="464.7" stroke="#a6a6a6" stroke-width="0.9"/>
<line x1="122.2" y1="423" x2="122.2" y2="413.9" stroke="#cbcbcb" stroke-width="0.75"/>
<rect x="120.4" y="412.0" width="3.7" height="3.7" fill="#fff" stroke="#111" stroke-width="1.05"/>
<text transform="translate(117.6,472.6) rotate(45)" font-size="7.3" fill="#161616">37PH</text>
<line x1="130.4" y1="461.2" x2="130.4" y2="464.7" stroke="#a6a6a6" stroke-width="0.9"/>
<line x1="130.4" y1="423" x2="130.4" y2="419.6" stroke="#e4e4e4" stroke-width="0.75"/>
<polygon points="130.4,417.2 132.9,421.8 127.9,421.8" fill="#000"/>
<text transform="translate(125.8,472.6) rotate(45)" font-size="7.3" fill="#161616">38LA</text>
<line x1="138.6" y1="461.2" x2="138.6" y2="464.7" stroke="#a6a6a6" stroke-width="0.9"/>
<line x1="138.6" y1="423" x2="138.6" y2="410.8" stroke="#cbcbcb" stroke-width="0.75"/>
<polygon points="138.6,413.2 141.1,408.6 136.1,408.6" fill="#000"/>
<text transform="translate(134.0,472.6) rotate(45)" font-size="7.3" fill="#161616">39A2d</text>
<line x1="146.8" y1="461.2" x2="146.8" y2="464.7" stroke="#a6a6a6" stroke-width="0.9"/>
<line x1="146.8" y1="423" x2="146.8" y2="447.3" stroke="#4e4e4e" stroke-width="1.4"/>
<polygon points="146.8,445.3 149.0,449.2 144.7,449.2" fill="#fff" stroke="#111" stroke-width="0.9"/>
<text transform="translate(142.2,472.6) rotate(45)" font-size="7.3" fill="#161616">40LAI</text>
<line x1="155.0" y1="461.2" x2="155.0" y2="464.7" stroke="#a6a6a6" stroke-width="0.9"/>
<line x1="155.0" y1="423" x2="155.0" y2="456.5" stroke="#cbcbcb" stroke-width="0.75"/>
<polygon points="155.0,458.9 157.5,454.3 152.5,454.3" fill="#000"/>
<text transform="translate(150.4,472.6) rotate(45)" font-size="7.3" fill="#161616">41A2d</text>
<line x1="163.2" y1="461.2" x2="163.2" y2="464.7" stroke="#a6a6a6" stroke-width="0.9"/>
<line x1="163.2" y1="423" x2="163.2" y2="359.8" stroke="#cbcbcb" stroke-width="0.75"/>
<polygon points="163.2,357.8 165.3,361.7 161.0,361.7" fill="#fff" stroke="#111" stroke-width="0.9"/>
<text transform="translate(158.6,472.6) rotate(45)" font-size="7.3" fill="#161616">42LAI</text>
<line x1="171.4" y1="461.2" x2="171.4" y2="464.7" stroke="#a6a6a6" stroke-width="0.9"/>
<line x1="171.4" y1="423" x2="171.4" y2="436.2" stroke="#cbcbcb" stroke-width="0.75"/>
<polygon points="171.4,438.2 173.5,434.3 169.2,434.3" fill="#fff" stroke="#111" stroke-width="0.9"/>
<text transform="translate(166.8,472.6) rotate(45)" font-size="7.3" fill="#161616">43LP</text>
<line x1="179.6" y1="461.2" x2="179.6" y2="464.7" stroke="#a6a6a6" stroke-width="0.9"/>
<line x1="179.6" y1="423" x2="179.6" y2="398.8" stroke="#cbcbcb" stroke-width="0.75"/>
<polygon points="179.6,401.2 182.1,396.6 177.1,396.6" fill="#000"/>
<text transform="translate(175.0,472.6) rotate(45)" font-size="7.3" fill="#161616">44A2d</text>
<line x1="187.8" y1="461.2" x2="187.8" y2="464.7" stroke="#a6a6a6" stroke-width="0.9"/>
<line x1="187.8" y1="423" x2="187.8" y2="392.7" stroke="#cbcbcb" stroke-width="0.75"/>
<polygon points="187.8,394.7 190.0,390.8 185.7,390.8" fill="#fff" stroke="#111" stroke-width="0.9"/>
<text transform="translate(183.2,472.6) rotate(45)" font-size="7.3" fill="#161616">46LP</text>
<line x1="196.0" y1="461.2" x2="196.0" y2="464.7" stroke="#a6a6a6" stroke-width="0.9"/>
<line x1="196.0" y1="423" x2="196.0" y2="420.7" stroke="#e4e4e4" stroke-width="0.75"/>
<polygon points="196.0,423.1 198.5,418.5 193.5,418.5" fill="#000"/>
<text transform="translate(191.4,472.6) rotate(45)" font-size="7.3" fill="#161616">47A2d</text>
<line x1="204.2" y1="461.2" x2="204.2" y2="464.7" stroke="#a6a6a6" stroke-width="0.9"/>
<line x1="204.2" y1="423" x2="204.2" y2="425.4" stroke="#e4e4e4" stroke-width="0.75"/>
<rect x="202.0" y="423.2" width="4.4" height="4.4" fill="#000"/>
<text transform="translate(199.6,472.6) rotate(45)" font-size="7.3" fill="#161616">48DB</text>
<line x1="212.4" y1="461.2" x2="212.4" y2="464.7" stroke="#a6a6a6" stroke-width="0.9"/>
<line x1="212.4" y1="423" x2="212.4" y2="442" stroke="#cbcbcb" stroke-width="0.75"/>
<rect x="210.2" y="439.8" width="4.4" height="4.4" fill="#000"/>
<text transform="translate(207.8,472.6) rotate(45)" font-size="7.3" fill="#161616">50DB</text>
<line x1="220.6" y1="461.2" x2="220.6" y2="464.7" stroke="#a6a6a6" stroke-width="0.9"/>
<line x1="220.6" y1="423" x2="220.6" y2="410.1" stroke="#cbcbcb" stroke-width="0.75"/>
<polygon points="220.6,412.1 222.7,408.2 218.4,408.2" fill="#fff" stroke="#111" stroke-width="0.9"/>
<text transform="translate(216.0,472.6) rotate(45)" font-size="7.3" fill="#161616">52LP</text>
<line x1="228.8" y1="461.2" x2="228.8" y2="464.7" stroke="#a6a6a6" stroke-width="0.9"/>
<line x1="228.8" y1="423" x2="228.8" y2="408.3" stroke="#4e4e4e" stroke-width="1.4"/>
<rect x="227.0" y="406.4" width="3.7" height="3.7" fill="#fff" stroke="#111" stroke-width="1.05"/>
<text transform="translate(224.2,472.6) rotate(45)" font-size="7.3" fill="#161616">53PH</text>
<line x1="237.0" y1="461.2" x2="237.0" y2="464.7" stroke="#a6a6a6" stroke-width="0.9"/>
<line x1="237.0" y1="423" x2="237.0" y2="426.7" stroke="#e4e4e4" stroke-width="0.75"/>
<rect x="234.8" y="424.5" width="4.4" height="4.4" fill="#000"/>
<text transform="translate(232.4,472.6) rotate(45)" font-size="7.3" fill="#161616">54DB</text>
<line x1="245.2" y1="461.2" x2="245.2" y2="464.7" stroke="#a6a6a6" stroke-width="0.9"/>
<line x1="245.2" y1="423" x2="245.2" y2="410.1" stroke="#4e4e4e" stroke-width="1.4"/>
<polygon points="245.2,412.5 247.7,407.9 242.7,407.9" fill="#000"/>
<text transform="translate(240.6,472.6) rotate(45)" font-size="7.3" fill="#161616">56A2d</text>
<line x1="253.4" y1="461.2" x2="253.4" y2="464.7" stroke="#a6a6a6" stroke-width="0.9"/>
<line x1="253.4" y1="423" x2="253.4" y2="401.4" stroke="#4e4e4e" stroke-width="1.4"/>
<circle cx="253.4" cy="401.4" r="2.3" fill="#000"/>
<text transform="translate(248.8,472.6) rotate(45)" font-size="7.3" fill="#161616">57A3d</text>
<line x1="261.6" y1="461.2" x2="261.6" y2="464.7" stroke="#a6a6a6" stroke-width="0.9"/>
<line x1="261.6" y1="423" x2="261.6" y2="430.1" stroke="#4e4e4e" stroke-width="1.4"/>
<rect x="259.4" y="427.9" width="4.4" height="4.4" fill="#000"/>
<text transform="translate(257.0,472.6) rotate(45)" font-size="7.3" fill="#161616">58DB</text>
<text x="150.4" y="500.7" font-size="9" text-anchor="middle" fill="#161616">Feature(cs)</text>
<rect x="59.4" y="507.8" width="180.4" height="9.6" fill="#fff" stroke="#c4c4c4" stroke-width="0.8"/>
<text x="62.4" y="514.6" font-size="5.4" font-weight="bold" letter-spacing="0.15" fill="#161616">f</text>
<g transform="translate(76.4,512.60) scale(0.92)"><polygon points="0.0,2.4 2.5,-2.2 -2.5,-2.2" fill="#000"/></g>
<text x="81.6" y="514.6" font-size="5.4" font-weight="bold" letter-spacing="0.15" fill="#161616">A2d</text>
<g transform="translate(100,512.60) scale(0.92)"><circle cx="0.0" cy="0.0" r="2.3" fill="#000"/></g>
<text x="105.6" y="514.6" font-size="5.4" font-weight="bold" letter-spacing="0.15" fill="#161616">A3d</text>
<g transform="translate(124.4,512.60) scale(0.92)"><rect x="-2.2" y="-2.2" width="4.4" height="4.4" fill="#000"/></g>
<text x="129.6" y="514.6" font-size="5.4" font-weight="bold" letter-spacing="0.15" fill="#161616">DB</text>
<g transform="translate(143.8,512.60) scale(0.92)"><polygon points="0.0,-2.4 2.5,2.2 -2.5,2.2" fill="#000"/></g>
<text x="149.7" y="514.6" font-size="5.4" font-weight="bold" letter-spacing="0.15" fill="#161616">LA</text>
<g transform="translate(163.8,512.60) scale(0.92)"><polygon points="0.0,-2.0 2.1,1.9 -2.1,1.9" fill="#fff" stroke="#111" stroke-width="0.9"/></g>
<text x="169.9" y="514.6" font-size="5.4" font-weight="bold" letter-spacing="0.15" fill="#161616">LAI</text>
<g transform="translate(186.3,512.60) scale(0.92)"><circle cx="0.0" cy="0.0" r="1.9" fill="#fff" stroke="#111" stroke-width="0.95"/></g>
<text x="192" y="514.6" font-size="5.4" font-weight="bold" letter-spacing="0.15" fill="#161616">LI</text>
<g transform="translate(204.6,512.60) scale(0.92)"><polygon points="0.0,2.0 2.1,-1.9 -2.1,-1.9" fill="#fff" stroke="#111" stroke-width="0.9"/></g>
<text x="210" y="514.6" font-size="5.4" font-weight="bold" letter-spacing="0.15" fill="#161616">LP</text>
<g transform="translate(224.9,512.60) scale(0.92)"><rect x="-1.9" y="-1.9" width="3.7" height="3.7" fill="#fff" stroke="#111" stroke-width="1.05"/></g>
<text x="230.6" y="514.6" font-size="5.4" font-weight="bold" letter-spacing="0.15" fill="#161616">PH</text>
<rect x="315" y="354.4" width="225.8" height="106.8" fill="#fff" stroke="#bcbec2" stroke-width="1"/>
<line x1="315" y1="403.6" x2="540.8" y2="403.6" stroke="#c8c8c8" stroke-width="0.9"/>
<line x1="311.4" y1="359.4" x2="315" y2="359.4" stroke="#a6a6a6" stroke-width="0.9"/>
<text x="308.2" y="361.8" font-size="7" text-anchor="end" fill="#161616">1.0</text>
<line x1="311.4" y1="381.6" x2="315" y2="381.6" stroke="#a6a6a6" stroke-width="0.9"/>
<text x="308.2" y="384.0" font-size="7" text-anchor="end" fill="#161616">0.5</text>
<line x1="311.4" y1="403.6" x2="315" y2="403.6" stroke="#a6a6a6" stroke-width="0.9"/>
<text x="308.2" y="406.0" font-size="7" text-anchor="end" fill="#161616">0.0</text>
<line x1="311.4" y1="425.8" x2="315" y2="425.8" stroke="#a6a6a6" stroke-width="0.9"/>
<text x="308.2" y="428.2" font-size="7" text-anchor="end" fill="#161616">-0.5</text>
<line x1="311.4" y1="448" x2="315" y2="448" stroke="#a6a6a6" stroke-width="0.9"/>
<text x="308.2" y="450.4" font-size="7" text-anchor="end" fill="#161616">-1.0</text>
<text transform="translate(289,407.5) rotate(-90)" font-size="9.3" text-anchor="middle" fill="#161616">DRYMp(cs)</text>
<text transform="translate(320,370.3) scale(0.8,1)" font-size="12.5" fill="#111" stroke="none">F</text>
<line x1="319.8" y1="461.2" x2="319.8" y2="464.7" stroke="#a6a6a6" stroke-width="0.9"/>
<circle cx="319.8" cy="408.0" r="1.9" fill="#fff" stroke="#111" stroke-width="0.95"/>
<text transform="translate(315.2,472.6) rotate(45)" font-size="7.3" fill="#161616">24DB</text>
<line x1="328.4" y1="461.2" x2="328.4" y2="464.7" stroke="#a6a6a6" stroke-width="0.9"/>
<line x1="328.4" y1="403.6" x2="328.4" y2="415.7" stroke="#cbcbcb" stroke-width="0.75"/>
<circle cx="328.4" cy="415.7" r="1.9" fill="#fff" stroke="#111" stroke-width="0.95"/>
<text transform="translate(323.8,472.6) rotate(45)" font-size="7.3" fill="#161616">25DB</text>
<line x1="337.0" y1="461.2" x2="337.0" y2="464.7" stroke="#a6a6a6" stroke-width="0.9"/>
<line x1="337.0" y1="403.6" x2="337.0" y2="443.4" stroke="#4e4e4e" stroke-width="1.4"/>
<rect x="334.8" y="441.2" width="4.4" height="4.4" fill="#000"/>
<text transform="translate(332.4,472.6) rotate(45)" font-size="7.3" fill="#161616">26LI</text>
<line x1="345.6" y1="461.2" x2="345.6" y2="464.7" stroke="#a6a6a6" stroke-width="0.9"/>
<polygon points="345.6,406.2 347.8,402.3 343.5,402.3" fill="#fff" stroke="#111" stroke-width="0.9"/>
<text transform="translate(341.0,472.6) rotate(45)" font-size="7.3" fill="#161616">27LP</text>
<line x1="354.2" y1="461.2" x2="354.2" y2="464.7" stroke="#a6a6a6" stroke-width="0.9"/>
<line x1="354.2" y1="403.6" x2="354.2" y2="390" stroke="#4e4e4e" stroke-width="1.4"/>
<rect x="352.3" y="388.1" width="3.7" height="3.7" fill="#fff" stroke="#111" stroke-width="1.05"/>
<text transform="translate(349.6,472.6) rotate(45)" font-size="7.3" fill="#161616">28A2d</text>
<line x1="362.8" y1="461.2" x2="362.8" y2="464.7" stroke="#a6a6a6" stroke-width="0.9"/>
<line x1="362.8" y1="403.6" x2="362.8" y2="381.6" stroke="#cbcbcb" stroke-width="0.75"/>
<circle cx="362.8" cy="381.6" r="1.9" fill="#fff" stroke="#111" stroke-width="0.95"/>
<text transform="translate(358.2,472.6) rotate(45)" font-size="7.3" fill="#161616">29DB</text>
<line x1="371.4" y1="461.2" x2="371.4" y2="464.7" stroke="#a6a6a6" stroke-width="0.9"/>
<polygon points="371.4,399.4 373.5,403.3 369.2,403.3" fill="#fff" stroke="#111" stroke-width="0.9"/>
<text transform="translate(366.8,472.6) rotate(45)" font-size="7.3" fill="#161616">30LAI</text>
<line x1="380.0" y1="461.2" x2="380.0" y2="464.7" stroke="#a6a6a6" stroke-width="0.9"/>
<line x1="380.0" y1="403.6" x2="380.0" y2="430.4" stroke="#cbcbcb" stroke-width="0.75"/>
<rect x="377.8" y="428.2" width="4.4" height="4.4" fill="#000"/>
<text transform="translate(375.4,472.6) rotate(45)" font-size="7.3" fill="#161616">31LI</text>
<line x1="388.6" y1="461.2" x2="388.6" y2="464.7" stroke="#a6a6a6" stroke-width="0.9"/>
<polygon points="388.6,402.1 391.1,406.7 386.1,406.7" fill="#000"/>
<text transform="translate(384.0,472.6) rotate(45)" font-size="7.3" fill="#161616">32PH</text>
<line x1="397.2" y1="461.2" x2="397.2" y2="464.7" stroke="#a6a6a6" stroke-width="0.9"/>
<line x1="397.2" y1="403.6" x2="397.2" y2="354.4" stroke="#adadad" stroke-width="0.85"/>
<text transform="translate(392.6,472.6) rotate(45)" font-size="7.3" fill="#161616">33PH</text>
<line x1="405.8" y1="461.2" x2="405.8" y2="464.7" stroke="#a6a6a6" stroke-width="0.9"/>
<line x1="405.8" y1="403.6" x2="405.8" y2="354.4" stroke="#adadad" stroke-width="0.85"/>
<text transform="translate(401.2,472.6) rotate(45)" font-size="7.3" fill="#161616">35PH</text>
<line x1="414.4" y1="461.2" x2="414.4" y2="464.7" stroke="#a6a6a6" stroke-width="0.9"/>
<line x1="414.4" y1="403.6" x2="414.4" y2="443.3" stroke="#cbcbcb" stroke-width="0.75"/>
<polygon points="414.4,440.9 416.9,445.5 411.9,445.5" fill="#000"/>
<text transform="translate(409.8,472.6) rotate(45)" font-size="7.3" fill="#161616">36PH</text>
<line x1="423.0" y1="461.2" x2="423.0" y2="464.7" stroke="#a6a6a6" stroke-width="0.9"/>
<circle cx="423.0" cy="406.4" r="1.9" fill="#fff" stroke="#111" stroke-width="0.95"/>
<text transform="translate(418.4,472.6) rotate(45)" font-size="7.3" fill="#161616">38DB</text>
<line x1="431.6" y1="461.2" x2="431.6" y2="464.7" stroke="#a6a6a6" stroke-width="0.9"/>
<polygon points="431.6,406.2 434.1,401.6 429.1,401.6" fill="#000"/>
<text transform="translate(427.0,472.6) rotate(45)" font-size="7.3" fill="#161616">39LA</text>
<line x1="440.2" y1="461.2" x2="440.2" y2="464.7" stroke="#a6a6a6" stroke-width="0.9"/>
<line x1="440.2" y1="403.6" x2="440.2" y2="390.6" stroke="#cbcbcb" stroke-width="0.75"/>
<circle cx="440.2" cy="390.6" r="1.9" fill="#fff" stroke="#111" stroke-width="0.95"/>
<circle cx="440.2" cy="399.6" r="1.9" fill="#fff" stroke="#111" stroke-width="0.95"/>
<text transform="translate(435.6,472.6) rotate(45)" font-size="7.3" fill="#161616">40DB</text>
<line x1="448.8" y1="461.2" x2="448.8" y2="464.7" stroke="#a6a6a6" stroke-width="0.9"/>
<line x1="448.8" y1="403.6" x2="448.8" y2="412.7" stroke="#cbcbcb" stroke-width="0.75"/>
<polygon points="448.8,415.1 451.3,410.5 446.3,410.5" fill="#000"/>
<text transform="translate(444.2,472.6) rotate(45)" font-size="7.3" fill="#161616">42LA</text>
<line x1="457.4" y1="461.2" x2="457.4" y2="464.7" stroke="#a6a6a6" stroke-width="0.9"/>
<line x1="457.4" y1="403.6" x2="457.4" y2="418.8" stroke="#cbcbcb" stroke-width="0.75"/>
<rect x="455.2" y="416.6" width="4.4" height="4.4" fill="#000"/>
<text transform="translate(452.8,472.6) rotate(45)" font-size="7.3" fill="#161616">44LI</text>
<line x1="466.0" y1="461.2" x2="466.0" y2="464.7" stroke="#a6a6a6" stroke-width="0.9"/>
<line x1="466.0" y1="403.6" x2="466.0" y2="383.2" stroke="#cbcbcb" stroke-width="0.75"/>
<circle cx="466.0" cy="383.2" r="1.9" fill="#fff" stroke="#111" stroke-width="0.95"/>
<text transform="translate(461.4,472.6) rotate(45)" font-size="7.3" fill="#161616">45DB</text>
<line x1="474.6" y1="461.2" x2="474.6" y2="464.7" stroke="#a6a6a6" stroke-width="0.9"/>
<line x1="474.6" y1="403.6" x2="474.6" y2="375.6" stroke="#cbcbcb" stroke-width="0.75"/>
<polygon points="474.6,378.0 477.1,373.4 472.1,373.4" fill="#000"/>
<polygon points="474.6,386.7 477.1,382.1 472.1,382.1" fill="#000"/>
<text transform="translate(470.0,472.6) rotate(45)" font-size="7.3" fill="#161616">47LA</text>
<line x1="483.2" y1="461.2" x2="483.2" y2="464.7" stroke="#a6a6a6" stroke-width="0.9"/>
<line x1="483.2" y1="403.6" x2="483.2" y2="414.9" stroke="#4e4e4e" stroke-width="1.4"/>
<rect x="481.0" y="412.7" width="4.4" height="4.4" fill="#000"/>
<text transform="translate(478.6,472.6) rotate(45)" font-size="7.3" fill="#161616">48LI</text>
<line x1="491.8" y1="461.2" x2="491.8" y2="464.7" stroke="#a6a6a6" stroke-width="0.9"/>
<line x1="491.8" y1="403.6" x2="491.8" y2="418.3" stroke="#cbcbcb" stroke-width="0.75"/>
<rect x="489.9" y="416.4" width="3.7" height="3.7" fill="#fff" stroke="#111" stroke-width="1.05"/>
<text transform="translate(487.2,472.6) rotate(45)" font-size="7.3" fill="#161616">50A2d</text>
<line x1="500.4" y1="461.2" x2="500.4" y2="464.7" stroke="#a6a6a6" stroke-width="0.9"/>
<line x1="500.4" y1="403.6" x2="500.4" y2="419.3" stroke="#4e4e4e" stroke-width="1.4"/>
<polygon points="500.4,421.3 502.5,417.4 498.2,417.4" fill="#fff" stroke="#111" stroke-width="0.9"/>
<text transform="translate(495.8,472.6) rotate(45)" font-size="7.3" fill="#161616">52LP</text>
<line x1="509.0" y1="461.2" x2="509.0" y2="464.7" stroke="#a6a6a6" stroke-width="0.9"/>
<line x1="509.0" y1="403.6" x2="509.0" y2="393.8" stroke="#cbcbcb" stroke-width="0.75"/>
<ellipse cx="509.0" cy="393.8" rx="1.8" ry="2.2" fill="#fff" stroke="#111" stroke-width="1.0"/><line x1="509.0" y1="392.3" x2="509.0" y2="395.3" stroke="#444" stroke-width="1"/>
<text transform="translate(504.4,472.6) rotate(45)" font-size="7.3" fill="#161616">53DB</text>
<line x1="517.6" y1="461.2" x2="517.6" y2="464.7" stroke="#a6a6a6" stroke-width="0.9"/>
<line x1="517.6" y1="403.6" x2="517.6" y2="415.6" stroke="#cbcbcb" stroke-width="0.75"/>
<rect x="515.8" y="413.8" width="3.7" height="3.7" fill="#fff" stroke="#111" stroke-width="1.05"/>
<text transform="translate(513.0,472.6) rotate(45)" font-size="7.3" fill="#161616">55A2d</text>
<line x1="526.2" y1="461.2" x2="526.2" y2="464.7" stroke="#a6a6a6" stroke-width="0.9"/>
<line x1="526.2" y1="403.6" x2="526.2" y2="419.3" stroke="#cbcbcb" stroke-width="0.75"/>
<rect x="524.0" y="417.1" width="4.4" height="4.4" fill="#000"/>
<text transform="translate(521.6,472.6) rotate(45)" font-size="7.3" fill="#161616">57LI</text>
<line x1="534.8" y1="461.2" x2="534.8" y2="464.7" stroke="#a6a6a6" stroke-width="0.9"/>
<line x1="534.8" y1="403.6" x2="534.8" y2="449.4" stroke="#cbcbcb" stroke-width="0.75"/>
<polygon points="534.8,447.0 537.3,451.6 532.3,451.6" fill="#000"/>
<text transform="translate(530.2,472.6) rotate(45)" font-size="7.3" fill="#161616">59PH</text>
<text x="426.7" y="499.6" font-size="9" text-anchor="middle" fill="#161616">Feature(cc)</text>
<rect x="349.8" y="508.4" width="156.1" height="9.4" fill="#fff" stroke="#c4c4c4" stroke-width="0.8"/>
<text x="352.1" y="515.1" font-size="5.4" font-weight="bold" letter-spacing="0.15" fill="#161616">f</text>
<g transform="translate(364.5,513.10) scale(0.92)"><rect x="-1.9" y="-1.9" width="3.7" height="3.7" fill="#fff" stroke="#111" stroke-width="1.05"/></g>
<text x="370.1" y="515.1" font-size="5.4" font-weight="bold" letter-spacing="0.15" fill="#161616">A2d</text>
<g transform="translate(388.1,513.10) scale(0.92)"><circle cx="0.0" cy="0.0" r="1.9" fill="#fff" stroke="#111" stroke-width="0.95"/></g>
<text x="393.3" y="515.1" font-size="5.4" font-weight="bold" letter-spacing="0.15" fill="#161616">DB</text>
<g transform="translate(409.4,513.10) scale(0.92)"><polygon points="0.0,2.4 2.5,-2.2 -2.5,-2.2" fill="#000"/></g>
<text x="414.9" y="515.1" font-size="5.4" font-weight="bold" letter-spacing="0.15" fill="#161616">LA</text>
<g transform="translate(430,513.10) scale(0.92)"><polygon points="0.0,-2.0 2.1,1.9 -2.1,1.9" fill="#fff" stroke="#111" stroke-width="0.9"/></g>
<text x="435.6" y="515.1" font-size="5.4" font-weight="bold" letter-spacing="0.15" fill="#161616">LAI</text>
<g transform="translate(451.9,513.10) scale(0.92)"><rect x="-2.2" y="-2.2" width="4.4" height="4.4" fill="#000"/></g>
<text x="457.8" y="515.1" font-size="5.4" font-weight="bold" letter-spacing="0.15" fill="#161616">LI</text>
<g transform="translate(469.9,513.10) scale(0.92)"><polygon points="0.0,2.0 2.1,-1.9 -2.1,-1.9" fill="#fff" stroke="#111" stroke-width="0.9"/></g>
<text x="475.2" y="515.1" font-size="5.4" font-weight="bold" letter-spacing="0.15" fill="#161616">LP</text>
<g transform="translate(490.5,513.10) scale(0.92)"><polygon points="0.0,-2.4 2.5,2.2 -2.5,2.2" fill="#000"/></g>
<text x="495.5" y="515.1" font-size="5.4" font-weight="bold" letter-spacing="0.15" fill="#161616">PH</text>
</svg>
</body></html>
